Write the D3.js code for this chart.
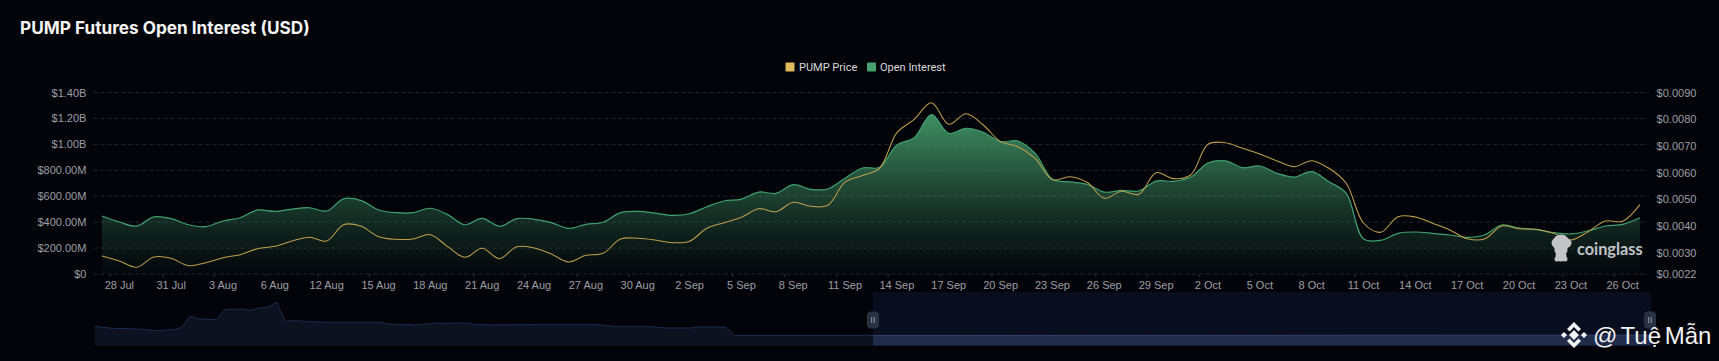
<!DOCTYPE html>
<html>
<head>
<meta charset="utf-8">
<script src="https://cdn.jsdelivr.net/npm/d3@7"></script>
<style>
  html, body { margin: 0; padding: 0; background: #03040a; }
  svg { display: block; font-family: Roboto, sans-serif; }
</style>
</head>
<body>
<svg id="chart" width="1719" height="361"></svg>
<script>
const categories = [
  "27 Jul", "28 Jul", "29 Jul", "30 Jul", "31 Jul", "1 Aug", "2 Aug", "3 Aug", "4 Aug", "5 Aug",
  "6 Aug", "7 Aug", "11 Aug", "12 Aug", "13 Aug", "14 Aug", "15 Aug", "16 Aug", "17 Aug", "18 Aug",
  "19 Aug", "20 Aug", "21 Aug", "22 Aug", "23 Aug", "24 Aug", "25 Aug", "26 Aug", "27 Aug", "28 Aug",
  "29 Aug", "30 Aug", "31 Aug", "1 Sep", "2 Sep", "3 Sep", "4 Sep", "5 Sep", "6 Sep", "7 Sep",
  "8 Sep", "9 Sep", "10 Sep", "11 Sep", "12 Sep", "13 Sep", "14 Sep", "15 Sep", "16 Sep", "17 Sep",
  "18 Sep", "19 Sep", "20 Sep", "21 Sep", "22 Sep", "23 Sep", "24 Sep", "25 Sep", "26 Sep", "27 Sep",
  "28 Sep", "29 Sep", "30 Sep", "1 Oct", "2 Oct", "3 Oct", "4 Oct", "5 Oct", "6 Oct", "7 Oct",
  "8 Oct", "9 Oct", "10 Oct", "11 Oct", "12 Oct", "13 Oct", "14 Oct", "15 Oct", "16 Oct", "17 Oct",
  "18 Oct", "19 Oct", "20 Oct", "21 Oct", "22 Oct", "23 Oct", "24 Oct", "25 Oct", "26 Oct", "27 Oct"
];

// Open interest, millions of USD
const openInterest = [
  447, 401, 370, 440, 427, 380, 365, 409, 434, 494,
  483, 501, 511, 486, 581, 566, 494, 473, 473, 507,
  458, 380, 429, 368, 427, 422, 396, 352, 383, 399,
  473, 483, 470, 452, 465, 519, 563, 578, 632, 622,
  689, 653, 656, 738, 818, 823, 995, 1051, 1229, 1085,
  1124, 1093, 1021, 1026, 931, 730, 710, 692, 632, 645,
  640, 717, 715, 746, 856, 872, 820, 833, 776, 748,
  789, 712, 622, 272, 260, 314, 324, 314, 301, 283,
  301, 378, 355, 342, 319, 309, 332, 370, 383, 434
];

const pumpPrice = [
  0.002874, 0.002687, 0.002451, 0.002837, 0.002787, 0.002512, 0.002624, 0.002812, 0.002924, 0.003149,
  0.003237, 0.003437, 0.003574, 0.003437, 0.004050, 0.003987, 0.003598, 0.003499, 0.003511, 0.003674,
  0.003225, 0.002825, 0.003162, 0.002775, 0.003225, 0.003174, 0.002949, 0.002650, 0.002899, 0.002974,
  0.003510, 0.003538, 0.003474, 0.003373, 0.003425, 0.003912, 0.004122, 0.004325, 0.004647, 0.004534,
  0.004887, 0.004737, 0.004774, 0.005640, 0.005890, 0.006170, 0.007496, 0.007996, 0.008619, 0.007809,
  0.008207, 0.007783, 0.007158, 0.006971, 0.006535, 0.005734, 0.005846, 0.005636, 0.005037, 0.005297,
  0.005186, 0.005997, 0.005773, 0.005910, 0.007059, 0.007121, 0.006910, 0.006696, 0.006434, 0.006221,
  0.006446, 0.006160, 0.005598, 0.004111, 0.003763, 0.004347, 0.004336, 0.004100, 0.003849, 0.003524,
  0.003511, 0.003999, 0.003898, 0.003875, 0.003725, 0.003474, 0.003785, 0.004186, 0.004175, 0.004797
];

const xTickLabels = categories.filter((d, i) => i % 3 === 1);
const oiTicks = [0, 200, 400, 600, 800, 1000, 1200, 1400];
const oiTickLabels = ["$0", "$200.00M", "$400.00M", "$600.00M", "$800.00M", "$1.00B", "$1.20B", "$1.40B"];
const priceTicks = [0.0022, 0.003, 0.004, 0.005, 0.006, 0.007, 0.008, 0.009];

// Overview strip under the chart: day number in the full history and relative level
const overviewDays = [
  0, 2, 5, 7, 9, 10, 11, 12, 14, 15, 17, 18, 19, 20, 21, 22, 23, 25, 27, 33, 34, 37, 39, 43, 44, 46,
  51, 58, 60, 64, 66, 69, 70, 73, 74, 100, 130, 160, 180
];
const overviewValues = [
  44.6, 40, 38.5, 34.6, 37, 41.5, 67.7, 61.5, 60, 83, 84.6, 81.5, 87, 88.5, 100, 56, 57.7, 55, 54, 54, 50, 47.7, 51.5, 52.3, 49, 47.7,
  49, 49, 44.6, 44.6, 40.8, 40.8, 43.8, 42.3, 23.8, 23.8, 24, 24.2, 24.5
];
const overviewTotalDays = 180;

const svg = d3.select("#chart");

const plot = { left: 93.4, right: 1648.6, top: 92.5, bottom: 274 };
const slider = { left: 95, right: 1651, top: 292, bottom: 345.7, lineTop: 302.3 };

const x = d3.scaleBand()
  .domain(categories)
  .range([plot.left, plot.right]);
const xc = d => x(d) + x.bandwidth() / 2;

const yOI = d3.scaleLinear().domain([0, 1400]).range([plot.bottom, plot.top]);
const yPrice = d3.scaleLinear().domain([0.0022, 0.009]).range([plot.bottom, plot.top]);

// Title
svg.append("text")
  .attr("x", 20)
  .attr("y", 34)
  .attr("fill", "#f4f4f4")
  .attr("font-family", "Inter, sans-serif")
  .attr("font-size", "17.2px")
  .attr("font-weight", 700)
  .text("PUMP Futures Open Interest (USD)");

// Legend
const legend = [
  { name: "PUMP Price", color: "#e0bb5e", box: 785.5, text: 799 },
  { name: "Open Interest", color: "#47a36f", box: 867, text: 880 }
];
legend.forEach(l => {
  svg.append("rect")
    .attr("x", l.box).attr("y", 62.5).attr("width", 9).attr("height", 9)
    .attr("rx", 1).attr("fill", l.color);
  svg.append("text")
    .attr("x", l.text).attr("y", 71)
    .attr("fill", "#d8d8d8").attr("font-size", "11px")
    .text(l.name);
});

// Grid
svg.append("g")
  .selectAll("line")
  .data(oiTicks)
  .enter()
  .append("line")
  .attr("x1", plot.left)
  .attr("x2", plot.right)
  .attr("y1", d => yOI(d))
  .attr("y2", d => yOI(d))
  .attr("stroke", "#23262d")
  .attr("stroke-dasharray", "4 3");

// Area gradient
const grad = svg.append("defs").append("linearGradient")
  .attr("id", "oiFill")
  .attr("gradientUnits", "userSpaceOnUse")
  .attr("x1", 0).attr("x2", 0)
  .attr("y1", yOI(d3.max(openInterest)))
  .attr("y2", plot.bottom);
grad.append("stop").attr("offset", 0).attr("stop-color", "#47a36f").attr("stop-opacity", 0.88);
grad.append("stop").attr("offset", 0.55).attr("stop-color", "#3f9265").attr("stop-opacity", 0.38);
grad.append("stop").attr("offset", 1).attr("stop-color", "#2f7a52").attr("stop-opacity", 0.02);

const oiPairs = categories.map((c, i) => [xc(c), openInterest[i]]);
const pricePairs = categories.map((c, i) => [xc(c), pumpPrice[i]]);
const smooth = d3.curveCatmullRom.alpha(0.5);

svg.append("path")
  .attr("d", d3.area()
    .x(d => d[0])
    .y0(plot.bottom)
    .y1(d => yOI(d[1]))
    .curve(smooth)(oiPairs))
  .attr("fill", "url(#oiFill)");

svg.append("path")
  .attr("d", d3.line()
    .x(d => d[0])
    .y(d => yOI(d[1]))
    .curve(smooth)(oiPairs))
  .attr("fill", "none")
  .attr("stroke", "#3fa26e")
  .attr("stroke-width", 1.2);

svg.append("path")
  .attr("d", d3.line()
    .x(d => d[0])
    .y(d => yPrice(d[1]))
    .curve(smooth)(pricePairs))
  .attr("fill", "none")
  .attr("stroke", "#bd9e4b")
  .attr("stroke-width", 1.05);

// Axes
const xAxis = svg.append("g")
  .attr("transform", `translate(0,${plot.bottom})`)
  .call(d3.axisBottom(x).tickValues(xTickLabels).tickSize(3).tickPadding(4));
xAxis.select(".domain").remove();
xAxis.selectAll(".tick line")
  .attr("x1", -x.bandwidth() / 2)
  .attr("x2", -x.bandwidth() / 2)
  .attr("stroke", "#2a2d34");
xAxis.selectAll("text")
  .attr("fill", "#9c9ea3")
  .attr("font-size", "11px");

const yAxisLeft = svg.append("g")
  .attr("transform", `translate(${plot.left},0)`)
  .call(d3.axisLeft(yOI)
    .tickValues(oiTicks)
    .tickFormat((d, i) => oiTickLabels[i])
    .tickSize(0)
    .tickPadding(7));
yAxisLeft.select(".domain").remove();
yAxisLeft.selectAll("text")
  .attr("fill", "#9c9ea3")
  .attr("font-size", "11px");

const yAxisRight = svg.append("g")
  .attr("transform", `translate(${plot.right},0)`)
  .call(d3.axisRight(yPrice)
    .tickValues(priceTicks)
    .tickFormat(d => "$" + d.toFixed(4))
    .tickSize(0)
    .tickPadding(8));
yAxisRight.select(".domain").remove();
yAxisRight.selectAll("text")
  .attr("fill", "#9c9ea3")
  .attr("font-size", "11px");

// Overview strip
const xOverview = d3.scaleLinear().domain([0, overviewTotalDays]).range([slider.left, slider.right]);
const yOverview = d3.scaleLinear().domain([0, 100]).range([slider.bottom, slider.lineTop]);
const overviewPairs = overviewDays.map((d, i) => [d, overviewValues[i]]);
const selectStartDay = overviewTotalDays - categories.length;
const selectX = xOverview(selectStartDay);

const overviewArea = d3.area()
  .x(d => xOverview(d[0]))
  .y0(slider.bottom)
  .y1(d => yOverview(d[1]));
const overviewLine = d3.line()
  .x(d => xOverview(d[0]))
  .y(d => yOverview(d[1]));

svg.append("rect")
  .attr("x", selectX)
  .attr("y", slider.top)
  .attr("width", slider.right - selectX)
  .attr("height", slider.bottom - slider.top)
  .attr("fill", "#080e1e");

const clips = svg.select("defs");
clips.append("clipPath").attr("id", "leftPart").append("rect")
  .attr("x", slider.left).attr("y", slider.top)
  .attr("width", selectX - slider.left).attr("height", slider.bottom - slider.top);
clips.append("clipPath").attr("id", "rightPart").append("rect")
  .attr("x", selectX).attr("y", slider.top)
  .attr("width", slider.right - selectX).attr("height", slider.bottom - slider.top);

const leftPart = svg.append("g").attr("clip-path", "url(#leftPart)");
leftPart.append("path").attr("d", overviewArea(overviewPairs)).attr("fill", "#0c1220");
leftPart.append("path").attr("d", overviewLine(overviewPairs)).attr("fill", "none").attr("stroke", "#1f2b4d");

const rightPart = svg.append("g").attr("clip-path", "url(#rightPart)");
rightPart.append("path").attr("d", overviewArea(overviewPairs)).attr("fill", "#212b4a");
rightPart.append("path").attr("d", overviewLine(overviewPairs)).attr("fill", "none").attr("stroke", "#33406b");

[selectX, slider.right - 1].forEach(hx => {
  const h = svg.append("g").attr("transform", `translate(${hx},320)`);
  h.append("rect")
    .attr("x", -6).attr("y", -8.5).attr("width", 12).attr("height", 17).attr("rx", 4)
    .attr("fill", "#2a3142");
  [-1.3, 1.3].forEach(dx => {
    h.append("line")
      .attr("x1", dx).attr("x2", dx).attr("y1", -3).attr("y2", 3)
      .attr("stroke", "#8d93a3");
  });
});

// coinglass mark
const mark = svg.append("g").attr("fill", "#c2c4c8");
[[1561, 243, 8.5], [1556, 243, 4.5], [1567, 243, 4.5], [1561, 250, 6.5], [1561, 256, 5.5], [1557, 259, 2.5], [1565, 259, 2.5]]
  .forEach(c => mark.append("circle").attr("cx", c[0]).attr("cy", c[1]).attr("r", c[2]));
svg.append("text")
  .attr("x", 1577)
  .attr("y", 255)
  .attr("fill", "#c2c4c8")
  .attr("font-family", "Lato, sans-serif")
  .attr("font-size", "16.3px")
  .attr("font-weight", 700)
  .text("coinglass");

// Author badge
const badge = svg.append("g").attr("transform", "translate(1574,335)").attr("fill", "#f2f2f2");
badge.append("rect").attr("x", -3.5).attr("y", -3.5).attr("width", 7).attr("height", 7)
  .attr("transform", "rotate(45)");
[[-10, 0], [10, 0]].forEach(c => {
  badge.append("rect").attr("x", c[0] - 2.2).attr("y", -2.2).attr("width", 4.4).attr("height", 4.4)
    .attr("transform", `rotate(45 ${c[0]} 0)`);
});
badge.append("path").attr("d", "M0,-13 L7,-6 L4.4,-3.6 L0,-8 L-4.4,-3.6 L-7,-6 Z");
badge.append("path").attr("d", "M0,13 L7,6 L4.4,3.6 L0,8 L-4.4,3.6 L-7,6 Z");

svg.append("text")
  .attr("x", 1593)
  .attr("y", 344)
  .attr("fill", "#f2f2f2")
  .attr("font-family", "'Liberation Sans', sans-serif")
  .attr("font-size", "24px")
  .attr("word-spacing", "-3px")
  .text("@ Tuệ Mẫn");
</script>
</body>
</html>
